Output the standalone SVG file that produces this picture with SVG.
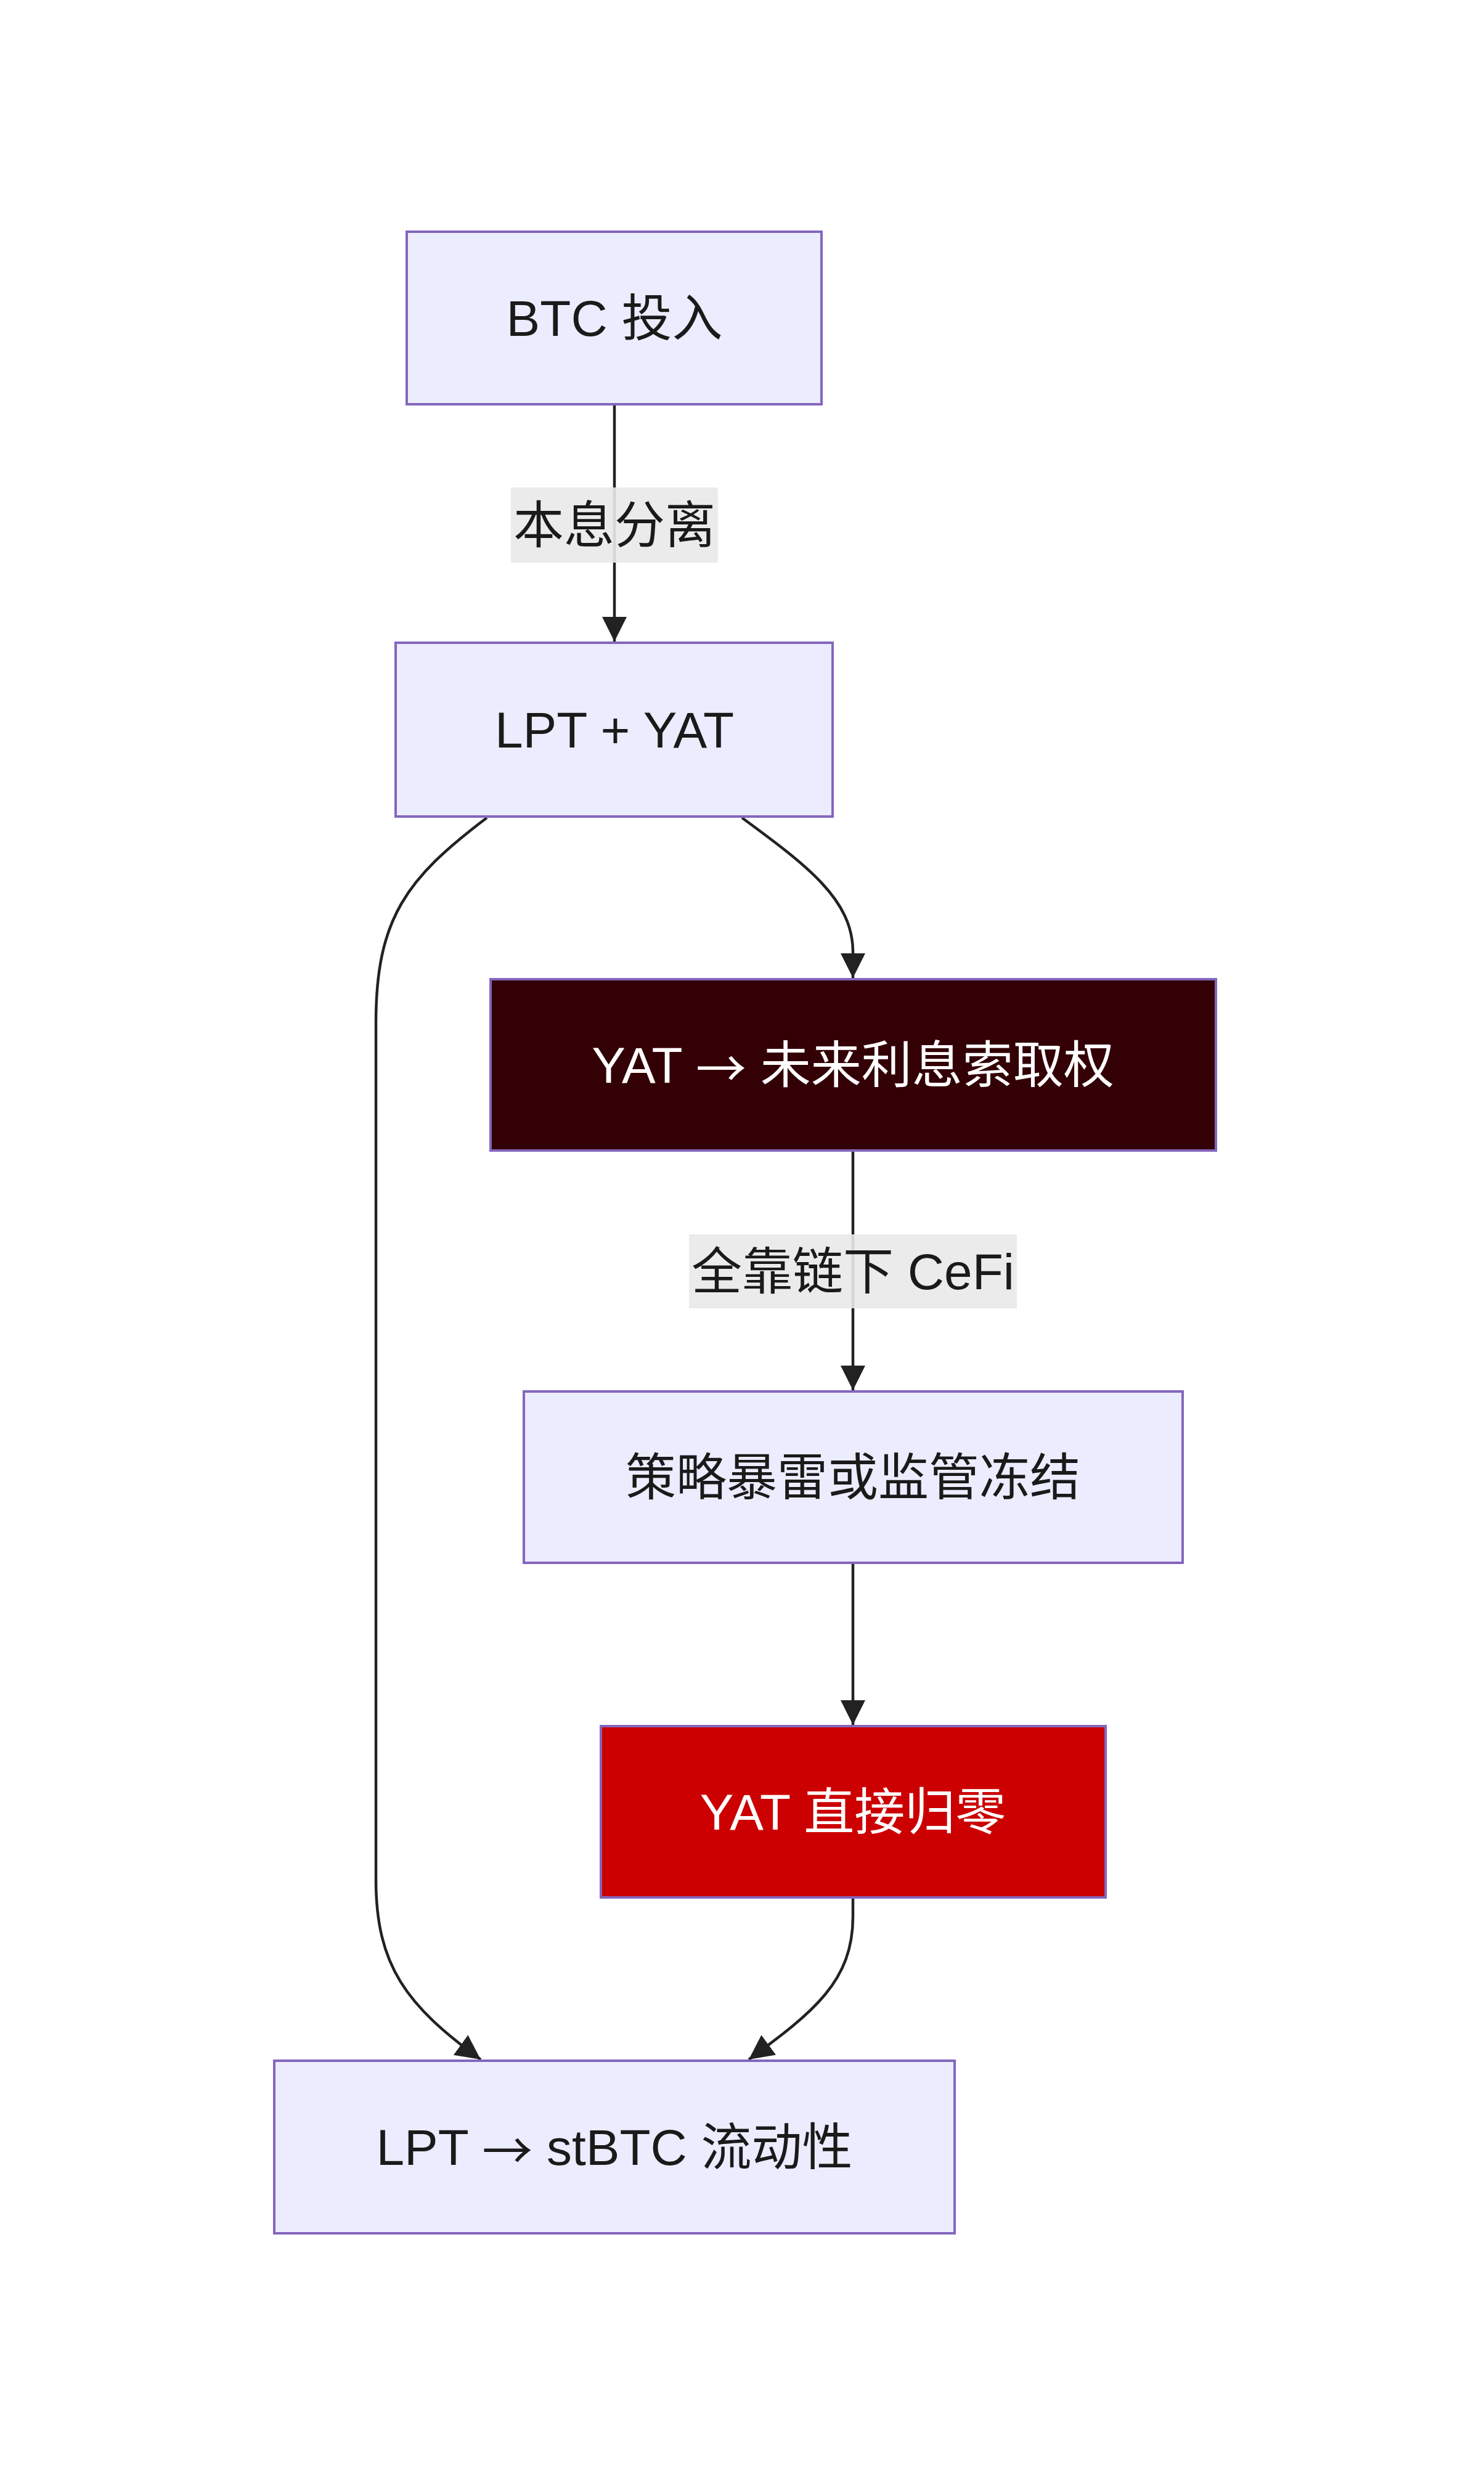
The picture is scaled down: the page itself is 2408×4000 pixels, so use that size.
<svg xmlns="http://www.w3.org/2000/svg" width="2408" height="4000" viewBox="0 0 2408 4000">
<defs>
<style>
.node rect{fill:#ECECFF;stroke:#8466BE;stroke-width:4}
.node text{font-family:"Liberation Sans","Noto Sans CJK SC",sans-serif;font-size:82px;fill:#1a1a1a;text-anchor:middle;dominant-baseline:central}
.dark rect{fill:#330006}
.red rect{fill:#CC0000}
.dark text,.red text{fill:#ffffff}
.ar{font-family:"Noto Sans CJK SC",sans-serif}
.edge{fill:none;stroke:#222;stroke-width:4.5}
.lbl rect{fill:#e9e9e9;opacity:0.9}
.lbl text{font-family:"Liberation Sans","Noto Sans CJK SC",sans-serif;font-size:82px;fill:#1a1a1a;text-anchor:middle;dominant-baseline:central}
</style>
<marker id="arr" viewBox="0 0 40 40" refX="40" refY="20" markerWidth="40" markerHeight="40" markerUnits="userSpaceOnUse" orient="auto">
<path d="M0,0 L40,20 L0,40 Z" fill="#222"/>
</marker>
</defs>
<rect width="2408" height="4000" fill="#ffffff"/>
<g id="edges">
<path class="edge" d="M997,656 L997,1041" marker-end="url(#arr)"/>
<path class="edge" d="M1204,1327 C1310,1405 1384,1460 1384,1545 L1384,1587" marker-end="url(#arr)"/>
<path class="edge" d="M790,1327 C660,1425 610,1490 610,1660 L610,3050 C610,3190 660,3255 780,3342" marker-end="url(#arr)"/>
<path class="edge" d="M1384,1867 L1384,2256" marker-end="url(#arr)"/>
<path class="edge" d="M1384,2536 L1384,2799" marker-end="url(#arr)"/>
<path class="edge" d="M1384,3079 L1384,3110 C1384,3215 1320,3265 1215,3342" marker-end="url(#arr)"/>
</g>
<g id="label-split" class="lbl">
<rect x="829" y="791" width="336" height="122"/>
<text x="997" y="852">本息分离</text>
</g>
<g id="label-cefi" class="lbl">
<rect x="1118" y="2003" width="532" height="120"/>
<text x="1384" y="2063">全靠链下 CeFi</text>
</g>
<g id="node-btc" class="node">
<rect x="660" y="376" width="673" height="280"/>
<text x="997" y="516">BTC 投入</text>
</g>
<g id="node-lpt-yat" class="node">
<rect x="642" y="1043" width="709" height="282"/>
<text x="997" y="1184">LPT + YAT</text>
</g>
<g id="node-yat-future" class="node dark">
<rect x="796" y="1589" width="1177" height="278"/>
<text x="1384" y="1728">YAT <tspan class="ar">→</tspan> 未来利息索取权</text>
</g>
<g id="node-freeze" class="node">
<rect x="850" y="2258" width="1069" height="278"/>
<text x="1384" y="2397">策略暴雷或监管冻结</text>
</g>
<g id="node-yat-zero" class="node red">
<rect x="975" y="2801" width="819" height="278"/>
<text x="1384" y="2940">YAT 直接归零</text>
</g>
<g id="node-stbtc" class="node">
<rect x="445" y="3344" width="1104" height="280"/>
<text x="997" y="3484">LPT <tspan class="ar">→</tspan> stBTC 流动性</text>
</g>
</svg>
